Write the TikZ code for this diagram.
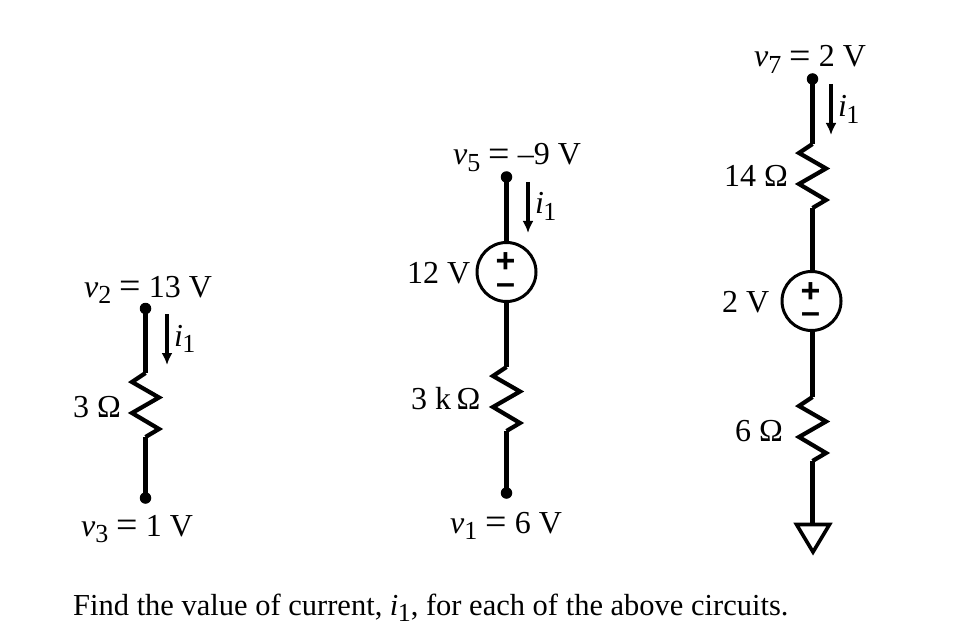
\documentclass[tikz,border=0pt]{standalone}
\usepackage{fontspec}
\usetikzlibrary{arrows.meta}
\setmainfont{Liberation Serif}
\newfontfamily\signfont{Liberation Sans}
\newcommand{\vsym}[1]{{\itshape v}\raisebox{-0.2em}{\fontsize{26}{26}\selectfont #1}}
\newcommand{\isym}{{\itshape i}\kern-0.02em\raisebox{-0.2em}{\fontsize{26}{26}\selectfont 1}}
\newcommand{\eqsign}{\kern0.26em\raisebox{-1.5pt}{\fontsize{38}{38}\selectfont =}\kern0.24em\relax}
\tikzset{
  x=1pt,y=-1pt,
  wire/.style={line width=4.2pt,line join=miter,line cap=butt},
  currentarrow/.style={line width=3.2pt,-{Latex[length=12pt,width=11pt]},shorten >=-1pt},
  terminal/.style={circle,fill=black,inner sep=0pt,minimum size=11.5pt},
  source/.style={circle,draw,line width=3pt,inner sep=0pt,minimum size=59pt},
  lbl/.style={anchor=base west,inner sep=0pt,font=\fontsize{32}{32}\selectfont},
  caplbl/.style={anchor=base west,inner sep=0pt,font=\fontsize{30.5}{31}\selectfont},
  signlbl/.style={anchor=center,inner sep=0pt,font=\signfont\bfseries\fontsize{34}{34}\selectfont},
  groundsym/.style={line width=3.6pt,line join=miter}
}
\newcommand{\zigzag}[3]{% x, top y, node-name prefix
  \coordinate (#3t) at (#1,#2);
  \coordinate (#3b) at (#1,#2+64);
  \draw[wire] (#3t) -- (#1-13.5,#2+9) -- (#1+13.5,#2+24.5) -- (#1-13.5,#2+40) -- (#1+13.5,#2+56) -- (#3b);
}
\begin{document}
\begin{tikzpicture}
\useasboundingbox (0,0) rectangle (960,628);
% circuit 1
\node[terminal] (a1) at (145.5,308.5) {};
\node[terminal] (a2) at (145.5,498) {};
\zigzag{145.5}{373}{ar}
\draw[wire] (a1.center) -- (art);
\draw[wire] (arb) -- (a2.center);
\coordinate (ai1) at (167,314);
\coordinate (ai2) at (167,364);
\draw[currentarrow] (ai1) -- (ai2);
\node[lbl] (av2) at (84,297) {\vsym{2}\eqsign 13 V};
\node[lbl] (av3) at (81,536) {\vsym{3}\eqsign 1 V};
\node[lbl] (ai) at (174,346) {\isym};
\node[lbl] (ares) at (73,417) {3 Ω};
% circuit 2
\node[terminal] (b1) at (506.5,177) {};
\node[source] (bs) at (506.5,272) {};
\node[terminal] (b2) at (506.5,493) {};
\zigzag{506.5}{367}{br}
\draw[wire] (b1.center) -- (bs.north);
\draw[wire] (bs.south) -- (brt);
\draw[wire] (brb) -- (b2.center);
\coordinate (bi1) at (528,182);
\coordinate (bi2) at (528,232);
\draw[currentarrow] (bi1) -- (bi2);
\node[signlbl] (bp) at (505.5,263) {+};
\node[signlbl] (bm) at (505.5,289) {–};
\node[lbl] (bv5) at (453,165) {\vsym{5}\eqsign –9 V};
\node[lbl] (bv1) at (450,533) {\vsym{1}\eqsign 6 V};
\node[lbl] (bi) at (535,214) {\isym};
\node[lbl] (bvs) at (407,283) {12 V};
\node[lbl] (bres) at (411,409) {3 k\,Ω};
% circuit 3
\node[terminal] (c1) at (812.5,79) {};
\node[source] (cs) at (811.5,301) {};
\zigzag{812.5}{144}{cra}
\zigzag{812.5}{397}{crb}
\coordinate (cg) at (812.5,523);
\draw[wire] (c1.center) -- (crat);
\draw[wire] (crab) -- (crab |- cs.north);
\draw[wire] (crbt |- cs.south) -- (crbt);
\draw[wire] (crbb) -- (cg);
\draw[groundsym] (796.5,524.5) -- (829.5,524.5) -- (813,552) -- cycle;
\coordinate (ci1) at (831,84);
\coordinate (ci2) at (831,134);
\draw[currentarrow] (ci1) -- (ci2);
\node[signlbl] (cp) at (810.5,293) {+};
\node[signlbl] (cm) at (810.5,318) {–};
\node[lbl] (cv7) at (754,67) {\vsym{7}\eqsign 2 V};
\node[lbl] (cil) at (838,117) {\isym};
\node[lbl] (cral) at (724,187) {14 Ω};
\node[lbl] (cvs) at (722,312) {2 V};
\node[lbl] (crbl) at (735,441) {6 Ω};
% caption
\node[caplbl] (cap) at (73,615) {Find the value of current, \isym, for each of the above circuits.};
\end{tikzpicture}
\end{document}
